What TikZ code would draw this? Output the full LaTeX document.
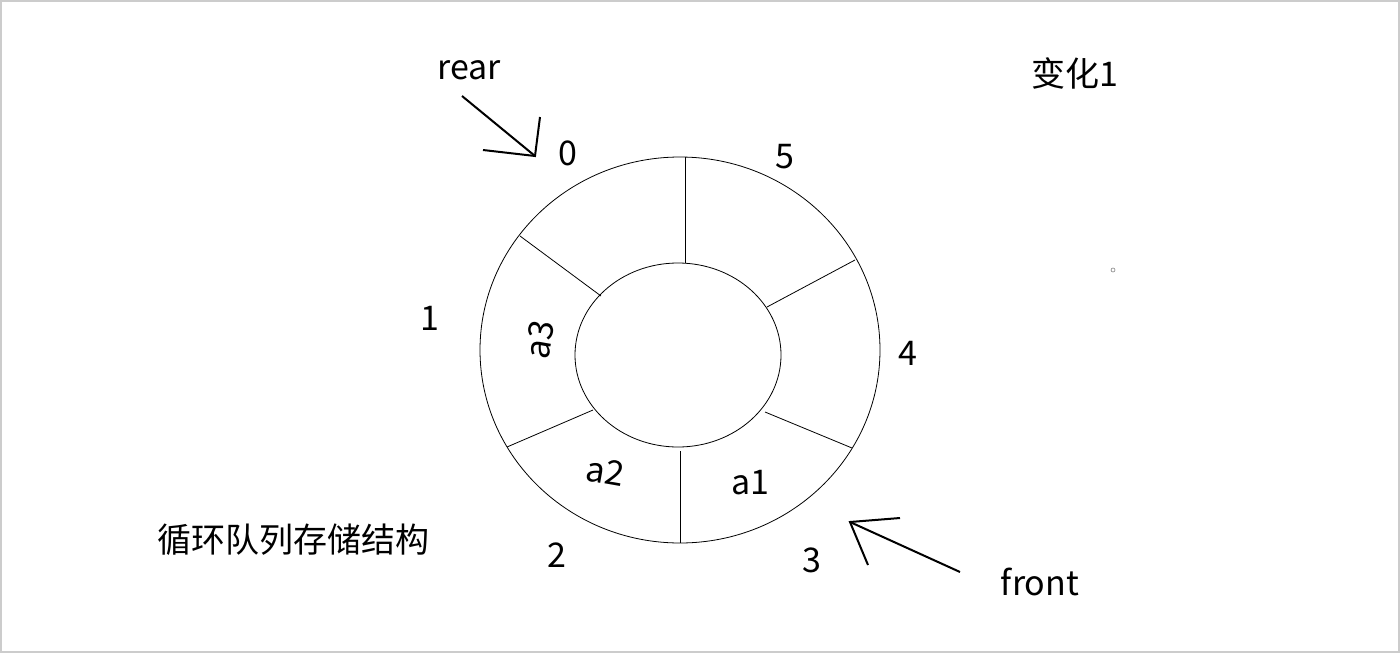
\documentclass[tikz,border=0pt]{standalone}
\usepackage{fontspec}
\setmainfont{Noto Sans CJK SC}
\begin{document}
\begin{tikzpicture}[x=1pt,y=-1pt,
  lbl/.style={font=\fontsize{34}{40}\selectfont,inner sep=0pt},
  thin/.style={draw=black,line width=0.8pt},
  arr/.style={draw=black,line width=2pt}]
\useasboundingbox (0,0) rectangle (1400,653);
\draw[gray!40,line width=1.5pt] (1,1) rectangle (1399,652);
\draw[thin] (680,350) ellipse [x radius=200,y radius=193];
\draw[thin] (678,355) ellipse [x radius=103,y radius=92];
\coordinate (t1) at (685,157); \coordinate (t2) at (685,263);
\draw[thin] (t1)--(t2);
\draw[thin] (520,236)--(601,296);
\draw[thin] (855,260)--(767,307);
\draw[thin] (852,448)--(765,412);
\draw[thin] (507,447)--(593,410);
\draw[thin] (680,451)--(680,543);
\node[lbl] (rear) at (469,70) {rear};
\coordinate (ra) at (535,156);
\draw[arr] (462,96)--(ra);
\draw[arr] (483,150)--(ra)--(540,117);
\node[lbl] (n0) at (568,153) {0};
\node[lbl] (n5) at (785,157) {5};
\node[lbl] (n1) at (430,318) {1};
\node[lbl] (n4) at (908,353) {4};
\node[lbl] (n2) at (557,555) {2};
\node[lbl] (n3) at (812,560) {3};
\node[lbl] (front) at (1040,582) {front};
\coordinate (fa) at (850,522);
\draw[arr] (960,572)--(fa);
\draw[arr] (900,518)--(fa)--(868,565);
\node[lbl] (bh) at (1075,73) {变化1};
\node[lbl] (title) at (293,540) {循环队列存储结构};
\node[lbl,rotate=80] (a3) at (540,340) {a3};
\node[lbl,rotate=-10] (a2) at (605,472) {a2};
\node[lbl] (a1) at (750,483) {a1};
\draw[gray,line width=0.6pt] (1113,270) circle (2);
\end{tikzpicture}
\end{document}
